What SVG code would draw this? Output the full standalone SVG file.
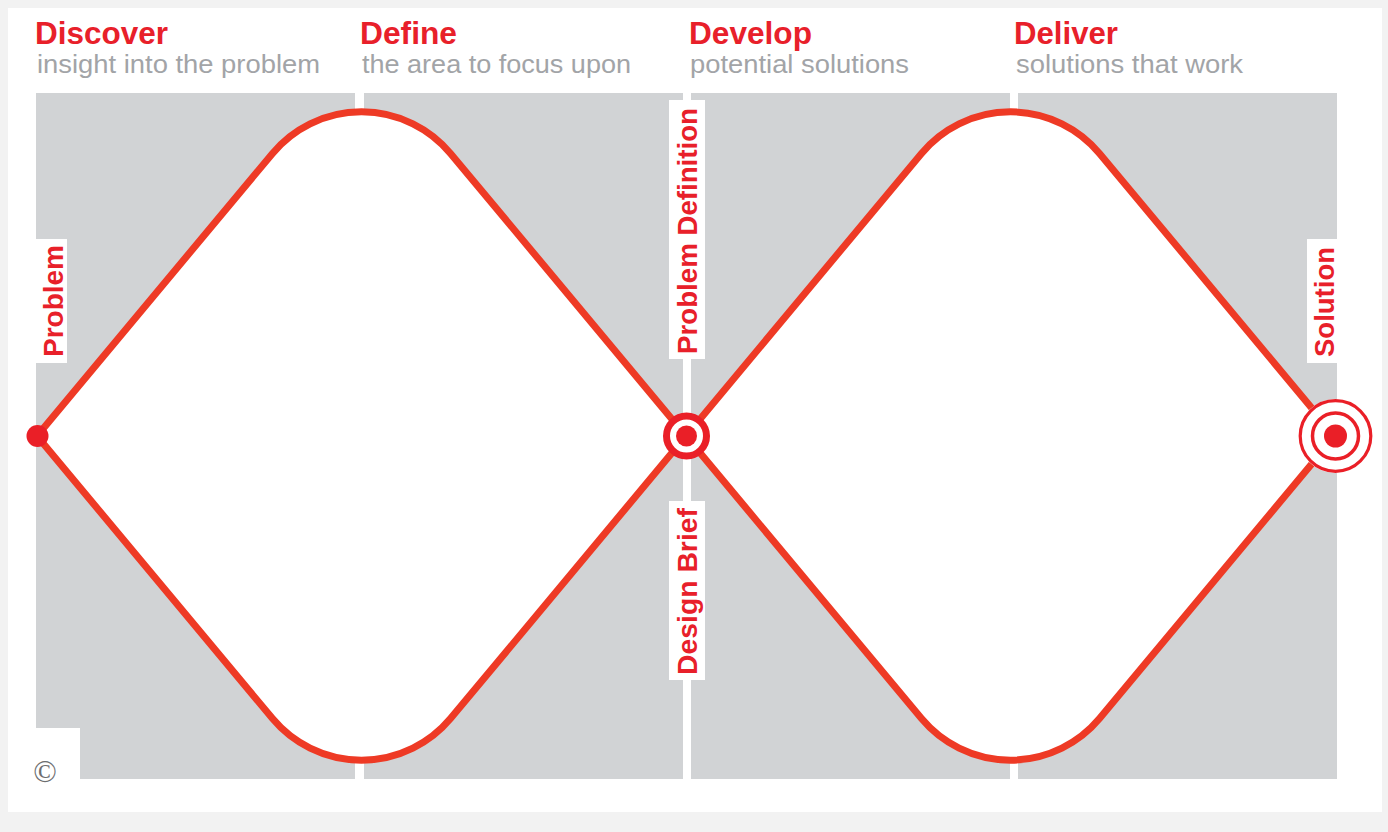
<svg xmlns="http://www.w3.org/2000/svg" width="1388" height="832" viewBox="0 0 1388 832">
  <style>
    .panel { fill: #d1d3d5; }
    .outline { fill: #ffffff; stroke: #ee3a25; stroke-width: 7; stroke-linejoin: round; }
    .head { font-family: "Liberation Sans", Arial, sans-serif; font-weight: bold; font-size: 31px; fill: #e8202a; }
    .sub { font-family: "Liberation Sans", Arial, sans-serif; font-size: 26px; fill: #a2a4a7; }
    .vlabel { font-family: "Liberation Sans", Arial, sans-serif; font-weight: bold; font-size: 27px; fill: #e8202a; text-anchor: middle; }
    .labelbox { fill: #ffffff; }
    .red { fill: #ea1f27; }
    .ring { fill: none; stroke: #ea1f27; }
  </style>

  <g id="background">
    <rect x="0" y="0" width="1388" height="832" fill="#f2f2f2"/>
    <rect x="8" y="8" width="1374" height="804" fill="#ffffff"/>
  </g>

  <g id="panels">
    <rect class="panel" x="36" y="93" width="319" height="686"/>
    <rect class="panel" x="364" y="93" width="319" height="686"/>
    <rect class="panel" x="691" y="93" width="319" height="686"/>
    <rect class="panel" x="1018" y="93" width="319" height="686"/>
    <rect x="8" y="728" width="72" height="84" fill="#ffffff"/>
  </g>

  <g id="headings">
    <g id="discover">
      <text class="head" x="35" y="43.5" textLength="133" lengthAdjust="spacingAndGlyphs">Discover</text>
      <text class="sub" x="37" y="73" textLength="283" lengthAdjust="spacingAndGlyphs">insight into the problem</text>
    </g>
    <g id="define">
      <text class="head" x="360" y="43.5" textLength="97" lengthAdjust="spacingAndGlyphs">Define</text>
      <text class="sub" x="362" y="73" textLength="269" lengthAdjust="spacingAndGlyphs">the area to focus upon</text>
    </g>
    <g id="develop">
      <text class="head" x="689" y="43.5" textLength="123" lengthAdjust="spacingAndGlyphs">Develop</text>
      <text class="sub" x="690" y="73" textLength="219" lengthAdjust="spacingAndGlyphs">potential solutions</text>
    </g>
    <g id="deliver">
      <text class="head" x="1014" y="43.5" textLength="104" lengthAdjust="spacingAndGlyphs">Deliver</text>
      <text class="sub" x="1016" y="73" textLength="227" lengthAdjust="spacingAndGlyphs">solutions that work</text>
    </g>
  </g>

  <g id="connectors">
    <path id="diamond-1" class="outline" d="M 37 436 L 272.5 153.4 A 116 116 0 0 1 450.5 153.4 L 686 436 L 450.5 718.6 A 116 116 0 0 1 272.5 718.6 Z"/>
    <path id="diamond-2" class="outline" d="M 686 436 L 921.5 153.4 A 116 116 0 0 1 1099.5 153.4 L 1335 436 L 1099.5 718.6 A 116 116 0 0 1 921.5 718.6 Z"/>
  </g>

  <g id="problem">
    <rect class="labelbox" x="35" y="239" width="32" height="124"/>
    <text class="vlabel" transform="translate(63,301) rotate(-90)" textLength="112" lengthAdjust="spacingAndGlyphs">Problem</text>
    <circle class="red" cx="37.5" cy="436" r="11"/>
  </g>

  <g id="problem-definition">
    <rect class="labelbox" x="669" y="100" width="36" height="259"/>
    <text class="vlabel" transform="translate(697,231) rotate(-90)" textLength="246" lengthAdjust="spacingAndGlyphs">Problem Definition</text>
  </g>

  <g id="design-brief">
    <rect class="labelbox" x="669" y="501" width="36" height="179"/>
    <text class="vlabel" transform="translate(697,591.5) rotate(-90)" textLength="167" lengthAdjust="spacingAndGlyphs">Design Brief</text>
  </g>

  <g id="midpoint">
    <circle cx="686.5" cy="436" r="20" fill="#ffffff" stroke="#ea1f27" stroke-width="7"/>
    <circle class="red" cx="686.5" cy="436" r="10.5"/>
  </g>

  <g id="solution">
    <rect class="labelbox" x="1307" y="239" width="30" height="124"/>
    <text class="vlabel" transform="translate(1334,302) rotate(-90)" textLength="110" lengthAdjust="spacingAndGlyphs">Solution</text>
    <circle cx="1335.5" cy="436" r="37" fill="#ffffff"/>
    <circle class="ring" cx="1335.5" cy="436" r="35.3" stroke-width="3.2"/>
    <circle class="ring" cx="1335.5" cy="436" r="23" stroke-width="3.5"/>
    <circle class="red" cx="1335.5" cy="436" r="11.5"/>
  </g>

  <g id="copyright">
    <text x="45" y="782" text-anchor="middle" font-family="Liberation Serif, 'Times New Roman', serif" font-size="31" fill="#6d6e70">©</text>
  </g>
</svg>
